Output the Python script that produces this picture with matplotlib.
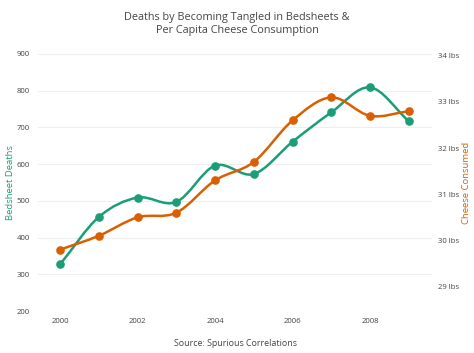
import numpy as np
import matplotlib
matplotlib.use("Agg")
from matplotlib import pyplot as plt
from matplotlib.path import Path
from matplotlib.patches import PathPatch

years = [2000, 2001, 2002, 2003, 2004, 2005, 2006, 2007, 2008, 2009]
deaths = [327, 456, 509, 497, 596, 573, 661, 741, 809, 717]
cheese = [29.8, 30.1, 30.5, 30.6, 31.3, 31.7, 32.6, 33.1, 32.7, 32.8]

green = "#1b9e77"
orange = "#d95f02"
txt = "#444444"

plt.rcParams['font.family'] = ['Open Sans', 'DejaVu Sans']


def smooth_path(x, y):
    # cubic bezier through the points (catmull-rom tangents)
    x = np.asarray(x, float)
    y = np.asarray(y, float)
    n = len(x)
    verts = [(x[0], y[0])]
    codes = [Path.MOVETO]
    tx = np.zeros(n)
    ty = np.zeros(n)
    for i in range(n):
        a = max(i - 1, 0)
        b = min(i + 1, n - 1)
        k = 0.5 if 0 < i < n - 1 else 1.0
        tx[i] = (x[b] - x[a]) * k
        ty[i] = (y[b] - y[a]) * k
    for i in range(n - 1):
        verts += [(x[i] + tx[i] / 3, y[i] + ty[i] / 3),
                  (x[i + 1] - tx[i + 1] / 3, y[i + 1] - ty[i + 1] / 3),
                  (x[i + 1], y[i + 1])]
        codes += [Path.CURVE4] * 3
    return Path(verts, codes)


fig = plt.figure(figsize=(4.74, 3.53), dpi=100)
ax = fig.add_axes([38 / 474, 42 / 353, 394 / 474, 257 / 353])
ax2 = ax.twinx()

ax.add_patch(PathPatch(smooth_path(years, deaths), fill=False, edgecolor=green,
                       lw=1.8, capstyle='round', joinstyle='round', zorder=3))
ax.plot(years, deaths, 'o', color=green, ms=5.2, zorder=4)
ax2.add_patch(PathPatch(smooth_path(years, cheese), fill=False, edgecolor=orange,
                        lw=1.8, capstyle='round', joinstyle='round', zorder=3))
ax2.plot(years, cheese, 'o', color=orange, ms=5.2, zorder=4)

ax.set_xlim(1999.43, 2009.6)
ax.set_ylim(200, 900)
ax2.set_ylim(28.47, 34.04)

ax.set_xticks([2000, 2002, 2004, 2006, 2008])
ax.set_yticks(range(200, 901, 100))
ax2.set_yticks(range(29, 35))
ax2.set_yticklabels([f"{v} lbs" for v in range(29, 35)])

ax.grid(axis='y', color='#eeeeee', lw=0.8)
ax.set_axisbelow(True)
for a in (ax, ax2):
    for s in a.spines.values():
        s.set_visible(False)
    a.tick_params(length=0, labelsize=5.6, labelcolor=txt)
ax.tick_params(axis='y', pad=6)
ax.tick_params(axis='x', pad=5)
ax2.tick_params(axis='y', pad=4)

ax.set_ylabel("Bedsheet Deaths", color=green, fontsize=6.8, labelpad=1)
ax2.set_ylabel("Cheese Consumed", color=orange, fontsize=6.8, labelpad=2.5, rotation=90)
ax.set_xlabel("Source: Spurious Correlations", color=txt, fontsize=6.4, labelpad=10)

fig.text(0.5, 1 - 24 / 353, "Deaths by Becoming Tangled in Bedsheets &\nPer Capita Cheese Consumption",
         ha='center', va='center', fontsize=7.8, color=txt, linespacing=1.35)

fig.savefig("out.png", dpi=100, facecolor='white')
